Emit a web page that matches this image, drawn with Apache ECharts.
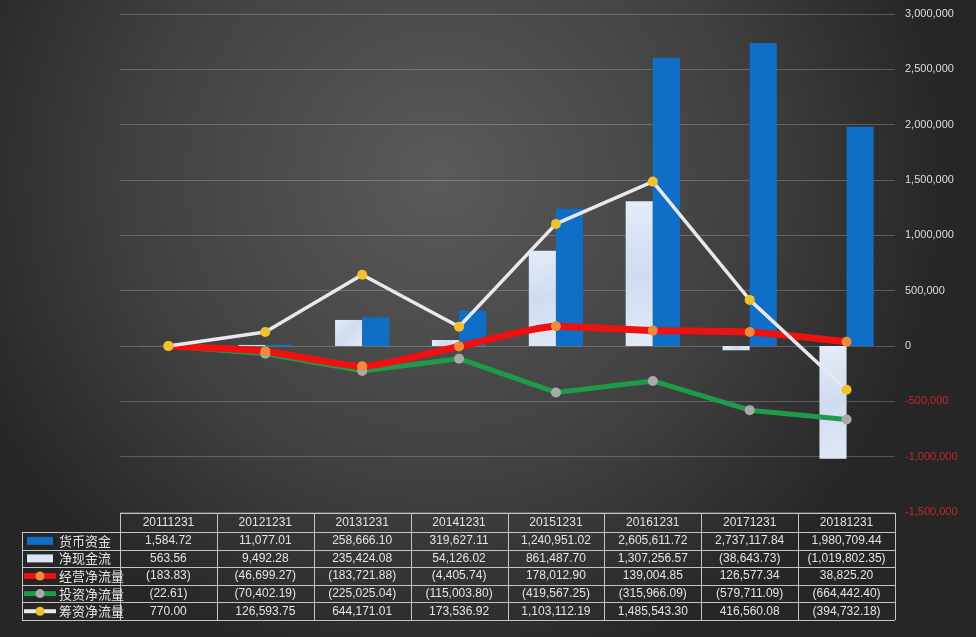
<!DOCTYPE html>
<html>
<head>
<meta charset="utf-8">
<script src="https://cdn.jsdelivr.net/npm/echarts@6/dist/echarts.min.js"></script>
<style>
html,body{margin:0;padding:0;background:#333;}
#main{width:976px;height:637px;}
</style>
</head>
<body>
<div id="main"></div>
<script>
// 数据
var dates = ['20111231','20121231','20131231','20141231','20151231','20161231','20171231','20181231'];
var cashFund = [1584.72, 11077.01, 258666.10, 319627.11, 1240951.02, 2605611.72, 2737117.84, 1980709.44];
var netCash = [563.56, 9492.28, 235424.08, 54126.02, 861487.70, 1307256.57, -38643.73, -1019802.35];
var opFlow = [-183.83, -46699.27, -183721.88, -4405.74, 178012.90, 139004.85, 126577.34, 38825.20];
var invFlow = [-22.61, -70402.19, -225025.04, -115003.80, -419567.25, -315966.09, -579711.09, -664442.40];
var finFlow = [770.00, 126593.75, 644171.01, 173536.92, 1103112.19, 1485543.30, 416560.08, -394732.18];
var yTicks = [-1500000, 3000000, 500000]; // min, max, interval

var gridLeft = 120, gridRight = 81, gridTop = 14, gridBottom = 125;

function fmtMoney(v){
	var s = Math.abs(v).toLocaleString('en-US', {minimumFractionDigits: 2, maximumFractionDigits: 2});
	return v < 0 ? '(' + s + ')' : s;
}

// 表格（数据表）
function buildTable(){
	var els = [];
	var W = 976, x0 = gridLeft, x1 = W - gridRight;
	var colW = (x1 - x0) / dates.length;
	var top = 637 - gridBottom + 1;
	var headH = 19, rowH = 17.6;
	var legendX = 22;
	var lineC = '#c4c4c4';
	var txt = '#e4e4e4';
	var rows = [
		{name: '货币资金', data: cashFund, type: 'bar', color: '#0f6fc6'},
		{name: '净现金流', data: netCash, type: 'bar', color: '#dde7f4'},
		{name: '经营净流量', data: opFlow, type: 'line', color: '#ee1111', dot: '#f08a3c', w: 6},
		{name: '投资净流量', data: invFlow, type: 'line', color: '#1e9a4a', dot: '#a9a9a9', w: 5},
		{name: '筹资净流量', data: finFlow, type: 'line', color: '#e8e8ee', dot: '#f2c12e', w: 4}
	];
	var bottom = top + headH + rowH * rows.length;
	// 表头
	for(var i=0;i<dates.length;i++){
		els.push({type: 'text', style: {text: dates[i], x: x0 + colW*(i+0.5), y: top + headH/2, align: 'center', verticalAlign: 'middle', fill: txt, font: '12px "Liberation Sans", Arial'}});
	}
	// 横线
	els.push({type: 'line', shape: {x1: x0, y1: top + 0.5, x2: x1, y2: top + 0.5}, style: {stroke: lineC, lineWidth: 1}});
	for(var r=0;r<=rows.length;r++){
		var y = Math.round(top + headH + rowH*r) + 0.5;
		els.push({type: 'line', shape: {x1: legendX, y1: y, x2: x1, y2: y}, style: {stroke: lineC, lineWidth: 1}});
	}
	// 竖线
	for(var c=0;c<=dates.length;c++){
		var x = Math.round(x0 + colW*c) + 0.5;
		els.push({type: 'line', shape: {x1: x, y1: top, x2: x, y2: bottom}, style: {stroke: lineC, lineWidth: 1}});
	}
	els.push({type: 'line', shape: {x1: legendX + 0.5, y1: top + headH, x2: legendX + 0.5, y2: bottom}, style: {stroke: lineC, lineWidth: 1}});
	// 行
	for(var r=0;r<rows.length;r++){
		var row = rows[r];
		var cy = top + headH + rowH*(r+0.5);
		if(row.type == 'bar'){
			els.push({type: 'rect', shape: {x: 27, y: cy - 4, width: 26, height: 8}, style: {fill: row.color}});
		}else{
			els.push({type: 'line', shape: {x1: 24, y1: cy, x2: 56, y2: cy}, style: {stroke: row.color, lineWidth: row.w}});
			els.push({type: 'circle', shape: {cx: 40, cy: cy, r: 4.5}, style: {fill: row.dot}});
		}
		els.push({type: 'text', style: {text: row.name, x: 59, y: cy, verticalAlign: 'middle', fill: txt, font: '13px "Noto Sans CJK SC"'}});
		for(var i=0;i<dates.length;i++){
			els.push({type: 'text', style: {text: fmtMoney(row.data[i]), x: x0 + colW*(i+0.5), y: cy, align: 'center', verticalAlign: 'middle', fill: txt, font: '12px "Liberation Sans", Arial'}});
		}
	}
	return els;
}

var myChart = echarts.init(document.getElementById('main'));
var option = {
	backgroundColor: {
		type: 'radial', x: 0.45, y: 0.28, r: 0.8,
		colorStops: [
			{offset: 0, color: '#5a5a5a'},
			{offset: 0.6, color: '#404040'},
			{offset: 1, color: '#262626'}
		]
	},
	animation: false,
	grid: {left: gridLeft, right: gridRight, top: gridTop, bottom: gridBottom},
	xAxis: {
		type: 'category',
		data: dates,
		axisLine: {show: false},
		axisTick: {show: false},
		axisLabel: {show: false}
	},
	yAxis: {
		type: 'value',
		position: 'right',
		min: yTicks[0],
		max: yTicks[1],
		interval: yTicks[2],
		axisLine: {show: false},
		axisTick: {show: false},
		splitLine: {lineStyle: {color: 'rgba(200,200,200,0.3)', width: 1}},
		axisLabel: {
			margin: 10,
			fontSize: 11,
			fontFamily: 'Liberation Sans',
			formatter: function(v){ return v.toLocaleString('en-US'); },
			color: function(v){ return Number(v) < 0 ? '#c0282d' : '#dedede'; }
		}
	},
	series: [
		{
			name: '净现金流', type: 'bar', data: netCash,
			barWidth: '28%', barGap: '0%',
			itemStyle: {color: {type: 'linear', x: 0, y: 0, x2: 1, y2: 1, colorStops: [
				{offset: 0, color: '#e4ecf8'}, {offset: 0.5, color: '#cfdcf0'}, {offset: 1, color: '#e0e9f6'}]}}
		},
		{
			name: '货币资金', type: 'bar', data: cashFund,
			barWidth: '28%', barGap: '0%',
			itemStyle: {color: '#0f6fc6'}
		},
		{
			name: '投资净流量', type: 'line', data: invFlow,
			symbol: 'circle', symbolSize: 10,
			lineStyle: {color: '#1e9a4a', width: 5},
			itemStyle: {color: '#a9a9a9'}
		},
		{
			name: '经营净流量', type: 'line', data: opFlow, smooth: 0.2,
			symbol: 'circle', symbolSize: 10,
			lineStyle: {color: '#ee1111', width: 7},
			itemStyle: {color: '#f08a3c'}
		},
		{
			name: '筹资净流量', type: 'line', data: finFlow,
			symbol: 'circle', symbolSize: 10,
			lineStyle: {color: '#e8e8ee', width: 3.5},
			itemStyle: {color: '#f2c12e'}
		}
	],
	graphic: buildTable()
};
myChart.setOption(option);
</script>
</body>
</html>
